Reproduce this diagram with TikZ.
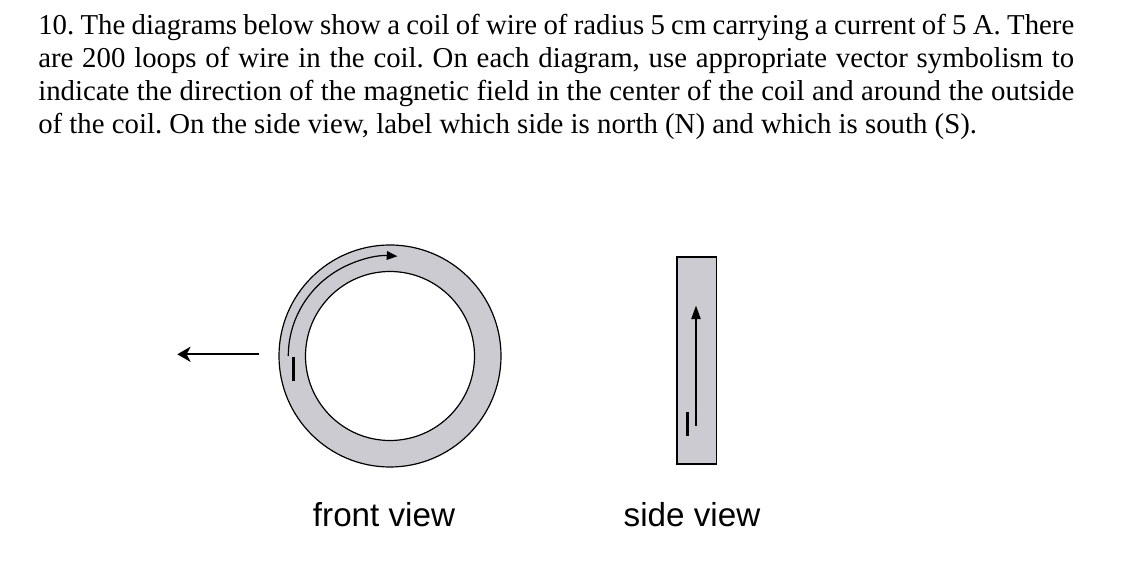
\documentclass[tikz,border=0pt]{standalone}
\usepackage{fontspec}
\setmainfont{Liberation Serif}
\newfontfamily\labelfont{Liberation Sans}
\usetikzlibrary{arrows.meta,positioning}
\definecolor{coilgray}{RGB}{205,203,210}

\begin{document}
\begin{tikzpicture}[x=0.75pt,y=0.75pt,
      question/.style={inner sep=0pt, text width=777pt, align=justify, font=\fontsize{21.6}{24.75}\selectfont},
      viewlabel/.style={inner sep=0pt, font=\labelfont\fontsize{24.9}{28}\selectfont},
      coil/.style={draw, fill=coilgray, line width=0.9pt},
      sidebox/.style={coil, line width=1.2pt, minimum width=29.7pt, minimum height=155.25pt, inner sep=0pt},
      current/.style={-{Stealth[length=8pt,width=6.5pt,inset=0pt]}, line width=0.9pt},
      sidecurrent/.style={-{Stealth[length=10pt,width=7pt,inset=0pt]}, line width=0.9pt},
      field/.style={-{Stealth[length=10pt,width=11.5pt,inset=3pt]}, line width=1.2pt},
      startmark/.style={line width=2.6pt}
    ]
    \useasboundingbox (0,0) rectangle (1124,563);

    \node[question, anchor=north west] (question) at (38,549.5) {\frenchspacing 10. The diagrams below show a coil of wire of radius 5 cm carrying a current of 5 A. There\linebreak are 200 loops of wire in the coil. On each diagram, use appropriate vector symbolism to\linebreak indicate the direction of the magnetic field in the center of the coil and around the outside\linebreak of the coil. On the side view, label which side is north (N) and which is south (S).};

    % front view
    \coordinate (centerF) at (390,207);
    \draw[coil, even odd rule] (centerF) circle (111) (centerF) circle (84.5);
    \draw[current] (288.3,207) arc (180:86:102 and 100);
    \coordinate (markFa) at (293.7,206.3);
    \coordinate (markFb) at (293.7,182.3);
    \draw[startmark] (markFa) -- (markFb);
    \coordinate (fieldA) at (259.3,208.7);
    \coordinate (fieldB) at (177.3,208.7);
    \draw[field] (fieldA) -- (fieldB);
    \node[viewlabel] (frontlabel) at (384,48) {front view};

    % side view
    \node[sidebox] (sidecoil) at (696.5,202.2) {};
    \coordinate (sideA) at (696,137);
    \coordinate (sideB) at (696,257.3);
    \draw[sidecurrent] (sideA) -- (sideB);
    \coordinate (markSa) at (687.3,150.7);
    \coordinate (markSb) at (687.3,127.3);
    \draw[startmark] (markSa) -- (markSb);
    \node[viewlabel] (sidelabel) at (692,48) {side view};
\end{tikzpicture}
\end{document}
